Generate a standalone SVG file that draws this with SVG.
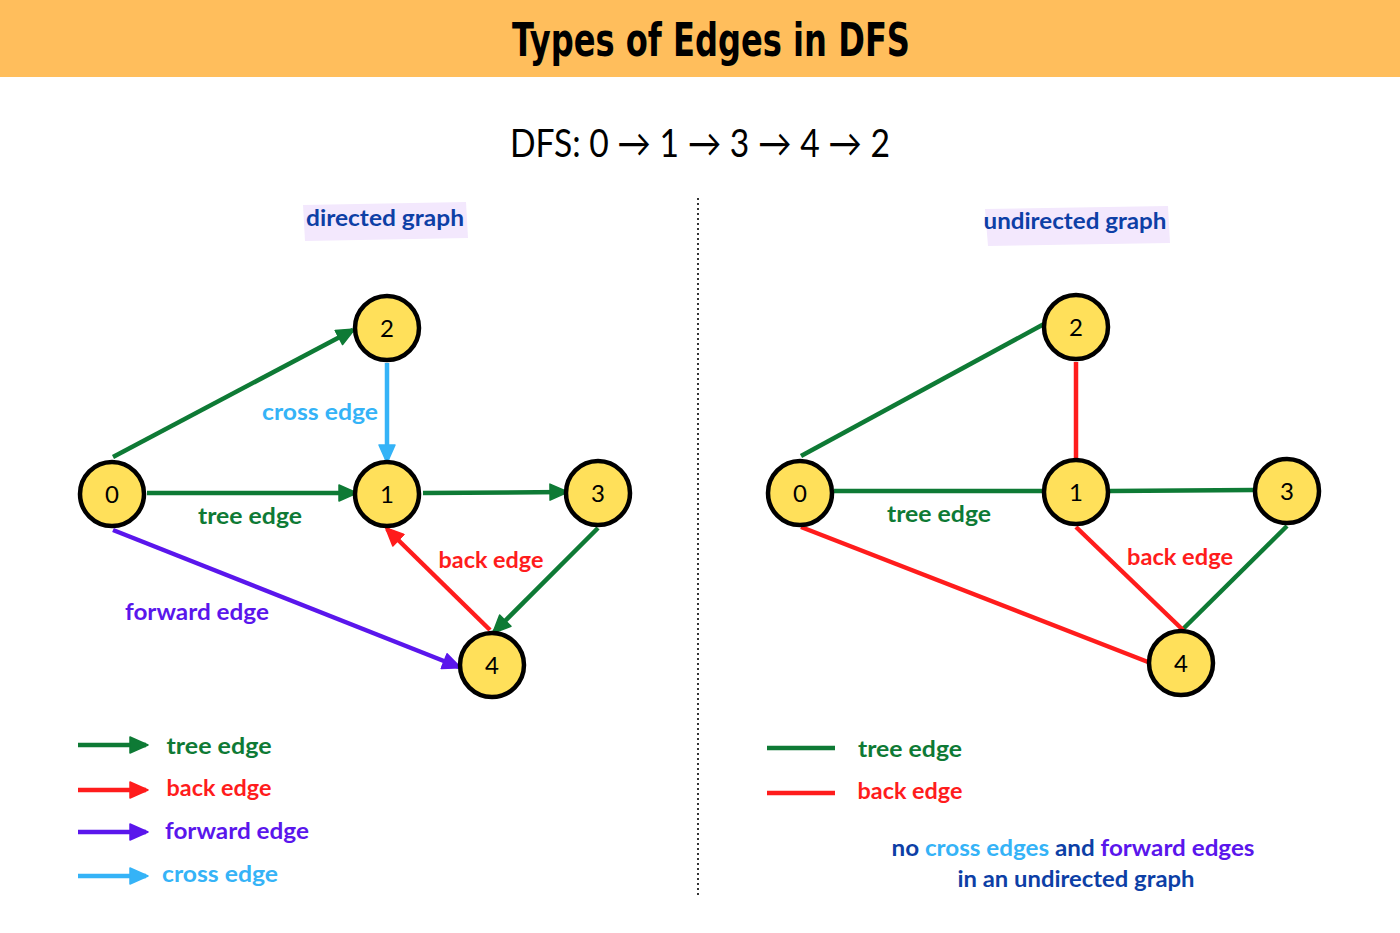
<svg xmlns="http://www.w3.org/2000/svg" width="1400" height="933" viewBox="0 0 1400 933">
<defs>
<style>
.lbl{font-family:Lato,"Noto Sans",sans-serif;font-weight:bold;font-size:22px;text-anchor:middle}
.nl{font-family:Lato,"Noto Sans",sans-serif;font-size:24px;text-anchor:middle;fill:#000}
.node circle{fill:#FFE05A;stroke:#000;stroke-width:4.5}
.e{stroke-width:4.5;fill:none;stroke-linecap:butt}
.g{stroke:#0E7A35}.r{stroke:#FF1C1C}.p{stroke:#5A16EC}.c{stroke:#35B3F7}
.tg{fill:#0E7A35}.tr{fill:#FF1C1C}.tp{fill:#5A16EC}.tc{fill:#35B3F7}.tb{fill:#0D3FA6}
</style>
<marker id="ag" markerUnits="userSpaceOnUse" markerWidth="20" markerHeight="18" refX="17" refY="9" orient="auto"><path d="M1,1 L19,9 L1,17 z" fill="#0E7A35" stroke="#0E7A35" stroke-linejoin="round" stroke-width="1.5"/></marker>
<marker id="ar" markerUnits="userSpaceOnUse" markerWidth="20" markerHeight="18" refX="17" refY="9" orient="auto"><path d="M1,1 L19,9 L1,17 z" fill="#FF1C1C" stroke="#FF1C1C" stroke-linejoin="round" stroke-width="1.5"/></marker>
<marker id="ap" markerUnits="userSpaceOnUse" markerWidth="20" markerHeight="18" refX="17" refY="9" orient="auto"><path d="M1,1 L19,9 L1,17 z" fill="#5A16EC" stroke="#5A16EC" stroke-linejoin="round" stroke-width="1.5"/></marker>
<marker id="ac" markerUnits="userSpaceOnUse" markerWidth="20" markerHeight="18" refX="17" refY="9" orient="auto"><path d="M1,1 L19,9 L1,17 z" fill="#35B3F7" stroke="#35B3F7" stroke-linejoin="round" stroke-width="1.5"/></marker>
</defs>
<rect width="1400" height="933" fill="#fff"/>
<rect x="0" y="0" width="1400" height="77" fill="#FFBE5C"/>
<text x="711" y="56" font-family="'DejaVu Sans Condensed','Liberation Sans',sans-serif" font-weight="bold" font-size="46" text-anchor="middle" textLength="398" lengthAdjust="spacingAndGlyphs" fill="#000">Types of Edges in DFS</text>
<text x="700" y="157" font-family="Lato,'Noto Sans',sans-serif" font-size="38" text-anchor="middle" textLength="380" lengthAdjust="spacingAndGlyphs" fill="#000">DFS: 0 → 1 → 3 → 4 → 2</text>

<line x1="698" y1="198" x2="698" y2="898" stroke="#333" stroke-width="2" stroke-dasharray="2,3"/>

<g id="subtitles">
<path d="M303,205 L466,202 L468,238 L305,241 z" fill="#F3E8FD"/>
<text class="lbl tb" x="385" y="226" textLength="158" lengthAdjust="spacingAndGlyphs">directed graph</text>
<path d="M985,209 L1168,206 L1170,243 L988,246 z" fill="#F3E8FD"/>
<text class="lbl tb" x="1075" y="229" textLength="183" lengthAdjust="spacingAndGlyphs">undirected graph</text>
</g>

<g id="connectors-directed">
<line class="e g" x1="113" y1="457" x2="353" y2="330" marker-end="url(#ag)"/>
<line class="e c" x1="387" y1="363" x2="387" y2="461" marker-end="url(#ac)"/>
<line class="e g" x1="147" y1="493" x2="355" y2="493" marker-end="url(#ag)"/>
<line class="e g" x1="423" y1="493" x2="566" y2="492" marker-end="url(#ag)"/>
<line class="e g" x1="598" y1="528" x2="494" y2="632" marker-end="url(#ag)"/>
<line class="e r" x1="490" y1="630" x2="387" y2="529" marker-end="url(#ar)"/>
<line class="e p" x1="113" y1="530" x2="459" y2="667" marker-end="url(#ap)"/>
</g>

<g id="connectors-undirected">
<line class="e g" x1="801" y1="456" x2="1044" y2="324"/>
<line class="e r" x1="1076" y1="362" x2="1076" y2="458"/>
<line class="e g" x1="834" y1="491" x2="1042" y2="491"/>
<line class="e g" x1="1110" y1="491" x2="1254" y2="490"/>
<line class="e g" x1="1287" y1="526" x2="1182" y2="630"/>
<line class="e r" x1="1076" y1="527" x2="1183" y2="630"/>
<line class="e r" x1="801" y1="527" x2="1148" y2="662"/>
</g>

<g id="edge-labels">
<text class="lbl tc" x="320" y="420" textLength="116" lengthAdjust="spacingAndGlyphs">cross edge</text>
<text class="lbl tg" x="250" y="524" textLength="104" lengthAdjust="spacingAndGlyphs">tree edge</text>
<text class="lbl tr" x="491" y="568" textLength="105" lengthAdjust="spacingAndGlyphs">back edge</text>
<text class="lbl tp" x="197" y="620" textLength="144" lengthAdjust="spacingAndGlyphs">forward edge</text>
<text class="lbl tg" x="939" y="522" textLength="104" lengthAdjust="spacingAndGlyphs">tree edge</text>
<text class="lbl tr" x="1180" y="565" textLength="106" lengthAdjust="spacingAndGlyphs">back edge</text>
</g>

<g id="node-L0" class="node"><circle cx="112" cy="494" r="32"/><text class="nl" x="112" y="503">0</text></g>
<g id="node-L1" class="node"><circle cx="387" cy="494" r="32"/><text class="nl" x="387" y="503">1</text></g>
<g id="node-L2" class="node"><circle cx="387" cy="328" r="32"/><text class="nl" x="387" y="337">2</text></g>
<g id="node-L3" class="node"><circle cx="598" cy="493" r="32"/><text class="nl" x="598" y="502">3</text></g>
<g id="node-L4" class="node"><circle cx="492" cy="665" r="32"/><text class="nl" x="492" y="674">4</text></g>

<g id="node-R0" class="node"><circle cx="800" cy="493" r="32"/><text class="nl" x="800" y="502">0</text></g>
<g id="node-R1" class="node"><circle cx="1076" cy="492" r="32"/><text class="nl" x="1076" y="501">1</text></g>
<g id="node-R2" class="node"><circle cx="1076" cy="327" r="32"/><text class="nl" x="1076" y="336">2</text></g>
<g id="node-R3" class="node"><circle cx="1287" cy="491" r="32"/><text class="nl" x="1287" y="500">3</text></g>
<g id="node-R4" class="node"><circle cx="1181" cy="663" r="32"/><text class="nl" x="1181" y="672">4</text></g>

<g id="legend-directed">
<line class="e g" x1="78" y1="745" x2="146" y2="745" marker-end="url(#ag)"/>
<line class="e r" x1="78" y1="790" x2="146" y2="790" marker-end="url(#ar)"/>
<line class="e p" x1="78" y1="832" x2="146" y2="832" marker-end="url(#ap)"/>
<line class="e c" x1="78" y1="876" x2="146" y2="876" marker-end="url(#ac)"/>
<text class="lbl tg" x="219" y="754" textLength="105" lengthAdjust="spacingAndGlyphs">tree edge</text>
<text class="lbl tr" x="219" y="796" textLength="105" lengthAdjust="spacingAndGlyphs">back edge</text>
<text class="lbl tp" x="237" y="839" textLength="144" lengthAdjust="spacingAndGlyphs">forward edge</text>
<text class="lbl tc" x="220" y="882" textLength="116" lengthAdjust="spacingAndGlyphs">cross edge</text>
</g>

<g id="legend-undirected">
<line class="e g" x1="767" y1="748" x2="835" y2="748"/>
<line class="e r" x1="767" y1="793" x2="835" y2="793"/>
<text class="lbl tg" x="910" y="757" textLength="104" lengthAdjust="spacingAndGlyphs">tree edge</text>
<text class="lbl tr" x="910" y="799" textLength="105" lengthAdjust="spacingAndGlyphs">back edge</text>
<text class="lbl tb" x="1073" y="856" textLength="363" lengthAdjust="spacingAndGlyphs">no <tspan class="tc">cross edges</tspan> and <tspan class="tp">forward edges</tspan></text>
<text class="lbl tb" x="1076" y="887" textLength="237" lengthAdjust="spacingAndGlyphs">in an undirected graph</text>
</g>
</svg>
